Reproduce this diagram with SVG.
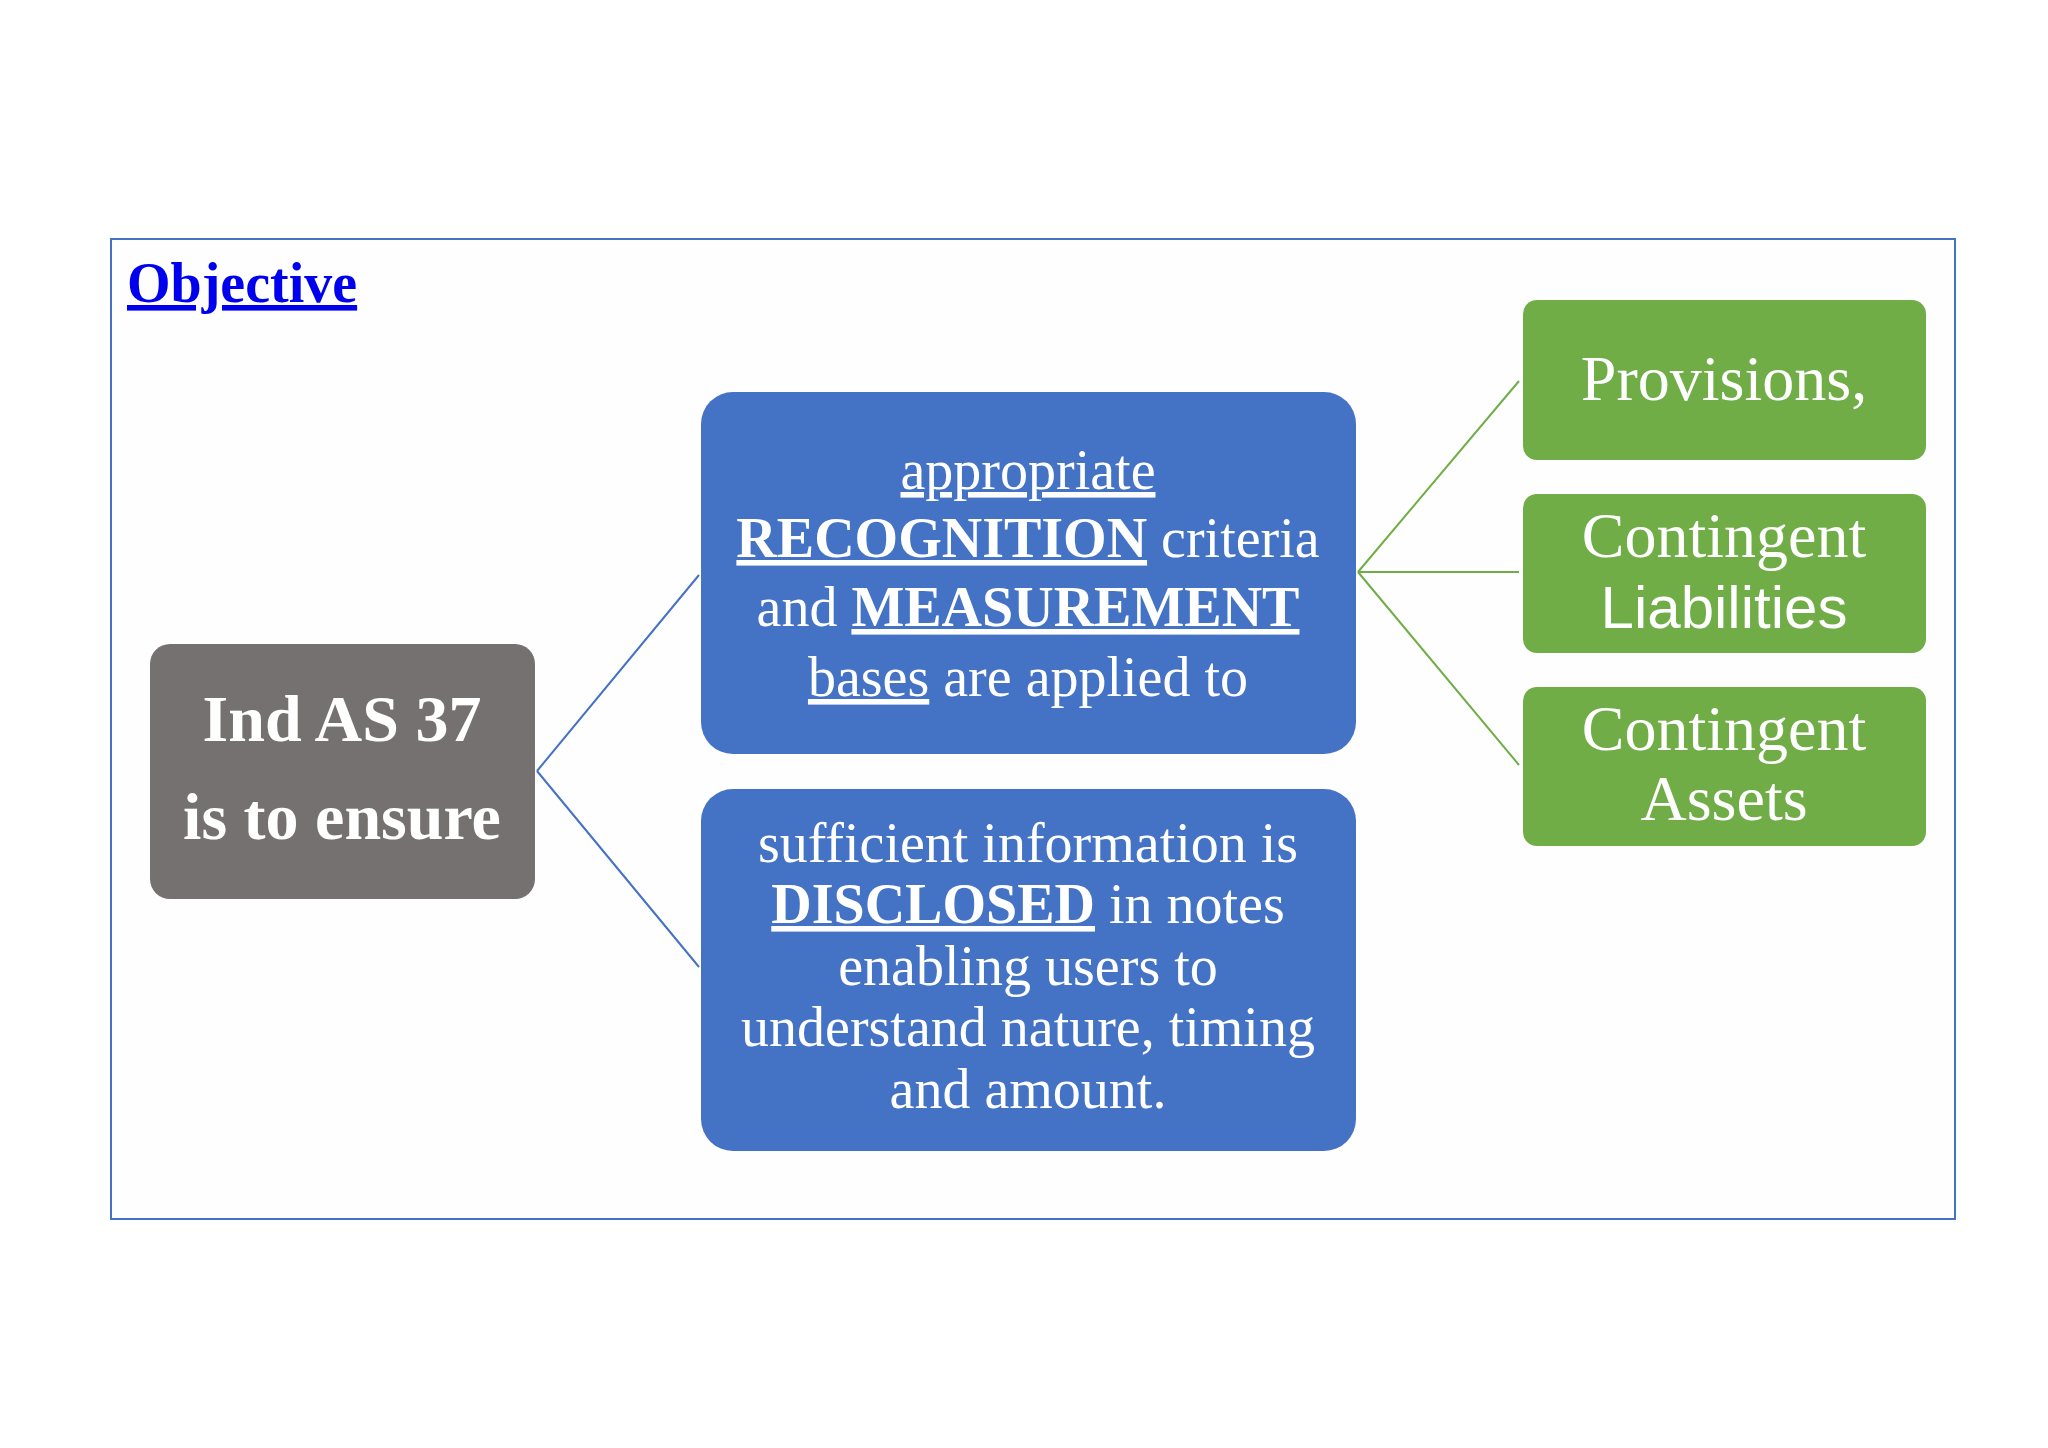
<svg xmlns="http://www.w3.org/2000/svg" width="2048" height="1448" viewBox="0 0 2048 1448">
<style>
.s{font-family:"Liberation Serif","Times New Roman",serif;fill:#fff;text-anchor:middle}
.b{font-weight:bold}
.u{text-decoration:underline}
.blue{fill:#4472C4}
.green{fill:#70AD47}
</style>
<rect width="2048" height="1448" fill="#fff"/>
<rect x="111" y="239" width="1844" height="980" fill="#fefefe" stroke="#4472C4" stroke-width="2"/>
<text x="127" y="302" font-family="Liberation Serif,serif" font-weight="bold" font-size="56" fill="#0000EE" text-decoration="underline">Objective</text>
<g id="connectors" fill="none" stroke-width="2">
<path d="M537 771 L699 575 M537 771 L699 967" stroke="#4472C4"/>
<path d="M1358 572 L1519 381 M1358 572 L1519 572 M1358 572 L1519 765" stroke="#70AD47"/>
</g>
<g id="root">
<rect x="150" y="644" width="385" height="255" rx="20" fill="#767171"/>
<text class="s b" x="342" y="741" font-size="66">Ind AS 37</text>
<text class="s b" x="342" y="839" font-size="66">is to ensure</text>
</g>
<g id="recognition">
<rect class="blue" x="701" y="392" width="655" height="362" rx="32"/>
<text class="s" font-size="56"><tspan x="1028" y="489" class="u">appropriate</tspan><tspan x="1028" y="557"><tspan class="b u">RECOGNITION</tspan> criteria</tspan><tspan x="1028" y="626">and <tspan class="b u">MEASUREMENT</tspan></tspan><tspan x="1028" y="696"><tspan class="u">bases</tspan> are applied to</tspan></text>
</g>
<g id="disclosure">
<rect class="blue" x="701" y="789" width="655" height="362" rx="32"/>
<text class="s" font-size="56"><tspan x="1028" y="862">sufficient information is</tspan><tspan x="1028" y="923"><tspan class="b u">DISCLOSED</tspan> in notes</tspan><tspan x="1028" y="985">enabling users to</tspan><tspan x="1028" y="1046">understand nature, timing</tspan><tspan x="1028" y="1108">and amount.</tspan></text>
</g>
<g id="provisions">
<rect class="green" x="1523" y="300" width="403" height="160" rx="14"/>
<text class="s" x="1724" y="400" font-size="64">Provisions,</text>
</g>
<g id="liabilities">
<rect class="green" x="1523" y="494" width="403" height="159" rx="14"/>
<text class="s" x="1724" y="557" font-size="64">Contingent</text>
<text x="1724" y="628" font-size="60" font-family="Liberation Sans,Arial,sans-serif" fill="#fff" text-anchor="middle">Liabilities</text>
</g>
<g id="assets">
<rect class="green" x="1523" y="687" width="403" height="159" rx="14"/>
<text class="s" x="1724" y="750" font-size="64">Contingent</text>
<text class="s" x="1724" y="820" font-size="64">Assets</text>
</g>
</svg>
